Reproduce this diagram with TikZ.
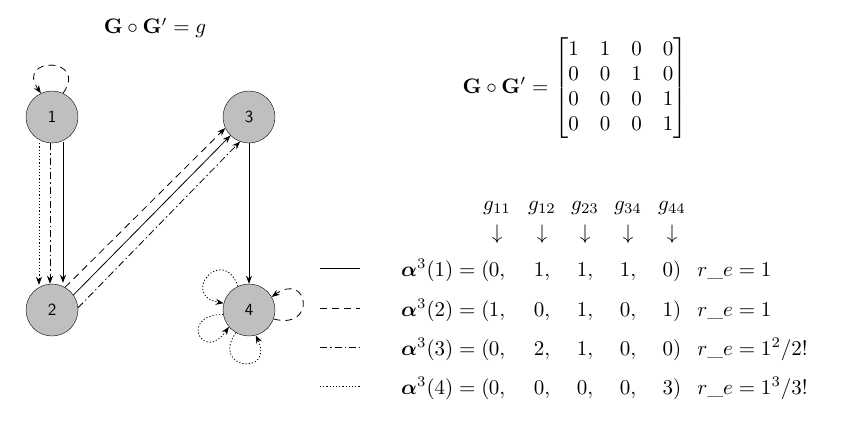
\documentclass[tikz,border=0pt]{standalone}
\usepackage{graphicx}
\usepackage{amsmath,bm}
\usetikzlibrary{arrows.meta}
\newcommand{\vlab}[1]{\scalebox{1.7}{\sffamily #1}}
\begin{document}
\begin{tikzpicture}[x=1pt,y=-1pt,
  vtx/.style={circle,draw,fill=black!25,minimum size=52pt,inner sep=0pt},
  edge/.style={-{Stealth[length=8pt,width=6pt]},thick},
  txt/.style={scale=2.1,inner sep=0pt},
  dd/.style={dash pattern=on 7pt off 5pt},
  dt/.style={dash pattern=on 1.2pt off 2pt},
  dsd/.style={dash pattern=on 7pt off 3pt on 1.5pt off 3pt}]
\useasboundingbox (0,0) rectangle (846,440);
\node[vtx] (n1) at (52,117) {\vlab{1}};
\node[vtx] (n3) at (249,117) {\vlab{3}};
\node[vtx] (n2) at (52,310) {\vlab{2}};
\node[vtx] (n4) at (249,310) {\vlab{4}};
% 1 -> 2
\draw[edge,dt] ([xshift=-13pt]n1.south) -- ([xshift=-13pt,yshift=-1pt]n2.north);
\draw[edge,dsd] ([xshift=-2pt]n1.south) -- ([xshift=-2pt]n2.north);
\draw[edge] ([xshift=11pt,yshift=1pt]n1.south) -- ([xshift=11pt,yshift=1pt]n2.north);
% 2 -> 3
\draw[edge,dd] (n2.60) -- (n3.205);
\draw[edge] (n2.35) -- (n3.225);
\draw[edge,dsd] (n2.5) -- (n3.250);
\draw[edge] (n3) -- (n4);
% loops (y axis flipped: real angle t written as -t)
\draw[edge,dd] (n1.65) .. controls +(-55:45) and +(-125:45) .. (n1.115);
\draw[edge,dd] (n4.-20) .. controls +(15:45) and +(-35:45) .. (n4.30);
\draw[edge,dt] (n4.115) .. controls +(-110:45) and +(-170:45) .. (n4.165);
\draw[edge,dt] (n4.190) .. controls +(-180:45) and +(-235:45) .. (n4.220);
\draw[edge,dt] (n4.240) .. controls +(-235:45) and +(-295:45) .. (n4.285);
% title and matrix
\node[txt] (t) at (155,28) {$\mathbf{G}\circ\mathbf{G}'=g$};
\node[txt] (m) at (575,88) {$\mathbf{G}\circ\mathbf{G}'=\begin{bmatrix}1&1&0&0\\0&0&1&0\\0&0&0&1\\0&0&0&1\end{bmatrix}$};
% column labels
\foreach \x/\l [count=\i] in {497/11,542/12,585/23,628/34,672/44}{
  \node[txt] (g\i) at (\x,208) {$g_{\l}$};
  \node[txt] (a\i) at (\x,234) {$\downarrow$};
}
% rows
\foreach \y/\k/\sty/\va/\vb/\vc/\vd/\ve/\r in {
  268/1/solid/0/1/1/1/0/{1},
  308/2/dd/1/0/1/0/1/{1},
  347/3/dsd/0/2/1/0/0/{1^2/2!},
  386/4/dt/0/0/0/0/3/{1^3/3!}}{
  \coordinate (ls\k) at (320,\y);
  \coordinate (le\k) at (360,\y);
  \draw[thick,\sty] (ls\k) -- (le\k);
  \node[txt,anchor=base east] (h\k) at (490,\y+8) {$\bm{\alpha}^3(\k)=($};
  \node[txt,anchor=base] (v1\k) at (497,\y+8) {$\va,$};
  \node[txt,anchor=base] (v2\k) at (542,\y+8) {$\vb,$};
  \node[txt,anchor=base] (v3\k) at (585,\y+8) {$\vc,$};
  \node[txt,anchor=base] (v4\k) at (628,\y+8) {$\vd,$};
  \node[txt,anchor=base] (v5\k) at (672,\y+8) {$\ve)$};
  \node[txt,anchor=base west] (r\k) at (697,\y+8) {$r\_e=\r$};
}
\end{tikzpicture}
\end{document}
